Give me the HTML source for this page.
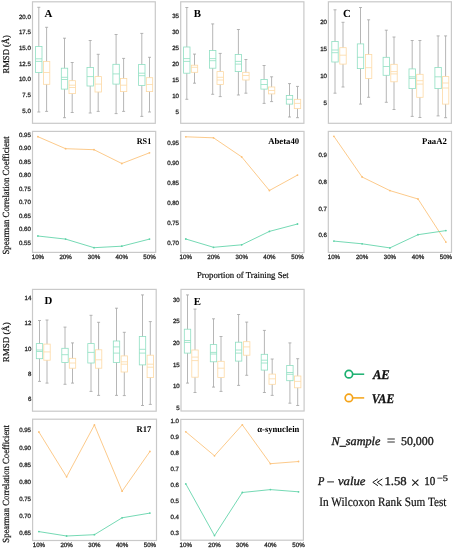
<!DOCTYPE html>
<html><head><meta charset="utf-8"><style>
html,body{margin:0;padding:0;background:#fff;width:454px;height:550px;overflow:hidden}
svg{display:block;will-change:transform}
text{text-rendering:geometricPrecision}
text{font-family:"Liberation Sans",sans-serif}
.serif{font-family:"Liberation Serif",serif}
</style></head><body>
<svg width="454" height="550" viewBox="0 0 454 550">
<rect width="454" height="550" fill="#fff"/>
<rect x="32.5" y="1.8" width="122.80" height="121.50" fill="none" stroke="#c9c9c9" stroke-width="1.2"/>
<rect x="180.7" y="1.8" width="123.20" height="121.50" fill="none" stroke="#c9c9c9" stroke-width="1.2"/>
<rect x="328.4" y="1.8" width="123.00" height="121.50" fill="none" stroke="#c9c9c9" stroke-width="1.2"/>
<path d="M38.8 7.3V46.5M38.8 72.6V112M37.3 7.3H40.3M37.3 112H40.3" stroke="#a3a3a3" stroke-width="0.8" fill="none"/>
<rect x="35.60" y="46.5" width="6.4" height="26.10" fill="none" stroke="#8fdfc2" stroke-width="0.8"/>
<path d="M35.60 58.8H42.00" stroke="#8fdfc2" stroke-width="0.8"/>
<path d="M35.60 61.4H42.00" stroke="#8fdfc2" stroke-width="0.8"/>
<path d="M46.6 27.3V61.4M46.6 84.3V111.4M45.1 27.3H48.1M45.1 111.4H48.1" stroke="#a3a3a3" stroke-width="0.8" fill="none"/>
<rect x="43.40" y="61.4" width="6.4" height="22.90" fill="none" stroke="#fdd9a4" stroke-width="0.8"/>
<path d="M43.40 72.5H49.80" stroke="#fdd9a4" stroke-width="0.8"/>
<path d="M64.5 38.2V68.2M64.5 89.1V117.7M63.0 38.2H66.0M63.0 117.7H66.0" stroke="#a3a3a3" stroke-width="0.8" fill="none"/>
<rect x="61.30" y="68.2" width="6.4" height="20.90" fill="none" stroke="#8fdfc2" stroke-width="0.8"/>
<path d="M61.30 77.3H67.70" stroke="#8fdfc2" stroke-width="0.8"/>
<path d="M61.30 79.5H67.70" stroke="#8fdfc2" stroke-width="0.8"/>
<path d="M72.2 62.5V80.7M72.2 93.6V112.5M70.7 62.5H73.7M70.7 112.5H73.7" stroke="#a3a3a3" stroke-width="0.8" fill="none"/>
<rect x="69.00" y="80.7" width="6.4" height="12.90" fill="none" stroke="#fdd9a4" stroke-width="0.8"/>
<path d="M69.00 85.2H75.40" stroke="#fdd9a4" stroke-width="0.8"/>
<path d="M69.00 87.5H75.40" stroke="#fdd9a4" stroke-width="0.8"/>
<path d="M90.2 40.5V67.5M90.2 86V113M88.7 40.5H91.7M88.7 113H91.7" stroke="#a3a3a3" stroke-width="0.8" fill="none"/>
<rect x="87.00" y="67.5" width="6.4" height="18.50" fill="none" stroke="#8fdfc2" stroke-width="0.8"/>
<path d="M87.00 76.6H93.40" stroke="#8fdfc2" stroke-width="0.8"/>
<path d="M98.2 54.3V76.6M98.2 92V111.4M96.7 54.3H99.7M96.7 111.4H99.7" stroke="#a3a3a3" stroke-width="0.8" fill="none"/>
<rect x="95.00" y="76.6" width="6.4" height="15.40" fill="none" stroke="#fdd9a4" stroke-width="0.8"/>
<path d="M95.00 84.1H101.40" stroke="#fdd9a4" stroke-width="0.8"/>
<path d="M116.1 34.5V64.3M116.1 84.1V113.6M114.6 34.5H117.6M114.6 113.6H117.6" stroke="#a3a3a3" stroke-width="0.8" fill="none"/>
<rect x="112.90" y="64.3" width="6.4" height="19.80" fill="none" stroke="#8fdfc2" stroke-width="0.8"/>
<path d="M112.90 73.9H119.30" stroke="#8fdfc2" stroke-width="0.8"/>
<path d="M123.6 58.4V78.4M123.6 91.6V111.4M122.1 58.4H125.1M122.1 111.4H125.1" stroke="#a3a3a3" stroke-width="0.8" fill="none"/>
<rect x="120.40" y="78.4" width="6.4" height="13.20" fill="none" stroke="#fdd9a4" stroke-width="0.8"/>
<path d="M120.40 85.2H126.80" stroke="#fdd9a4" stroke-width="0.8"/>
<path d="M141.8 33.4V64.5M141.8 85.5V116.4M140.3 33.4H143.3M140.3 116.4H143.3" stroke="#a3a3a3" stroke-width="0.8" fill="none"/>
<rect x="138.60" y="64.5" width="6.4" height="21.00" fill="none" stroke="#8fdfc2" stroke-width="0.8"/>
<path d="M138.60 73.2H145.00" stroke="#8fdfc2" stroke-width="0.8"/>
<path d="M138.60 75.7H145.00" stroke="#8fdfc2" stroke-width="0.8"/>
<path d="M149.5 57.3V77.7M149.5 91.6V112M148.0 57.3H151.0M148.0 112H151.0" stroke="#a3a3a3" stroke-width="0.8" fill="none"/>
<rect x="146.30" y="77.7" width="6.4" height="13.90" fill="none" stroke="#fdd9a4" stroke-width="0.8"/>
<path d="M146.30 84.5H152.70" stroke="#fdd9a4" stroke-width="0.8"/>
<path d="M186.8 7.5V47M186.8 73.2V99.3M185.3 7.5H188.3M185.3 99.3H188.3" stroke="#a3a3a3" stroke-width="0.8" fill="none"/>
<rect x="183.60" y="47" width="6.4" height="26.20" fill="none" stroke="#8fdfc2" stroke-width="0.8"/>
<path d="M183.60 58.6H190.00" stroke="#8fdfc2" stroke-width="0.8"/>
<path d="M183.60 61.4H190.00" stroke="#8fdfc2" stroke-width="0.8"/>
<path d="M194.5 54.1V65.2M194.5 72.3V83.2M193.0 54.1H196.0M193.0 83.2H196.0" stroke="#a3a3a3" stroke-width="0.8" fill="none"/>
<rect x="191.30" y="65.2" width="6.4" height="7.10" fill="none" stroke="#fdd9a4" stroke-width="0.8"/>
<path d="M191.30 67.3H197.70" stroke="#fdd9a4" stroke-width="0.8"/>
<path d="M212.7 23.9V50.5M212.7 68.2V94.3M211.2 23.9H214.2M211.2 94.3H214.2" stroke="#a3a3a3" stroke-width="0.8" fill="none"/>
<rect x="209.50" y="50.5" width="6.4" height="17.70" fill="none" stroke="#8fdfc2" stroke-width="0.8"/>
<path d="M209.50 58.6H215.90" stroke="#8fdfc2" stroke-width="0.8"/>
<path d="M209.50 60.7H215.90" stroke="#8fdfc2" stroke-width="0.8"/>
<path d="M220.2 53.4V71.6M220.2 84.5V96.6M218.7 53.4H221.7M218.7 96.6H221.7" stroke="#a3a3a3" stroke-width="0.8" fill="none"/>
<rect x="217.00" y="71.6" width="6.4" height="12.90" fill="none" stroke="#fdd9a4" stroke-width="0.8"/>
<path d="M217.00 77.3H223.40" stroke="#fdd9a4" stroke-width="0.8"/>
<path d="M217.00 80H223.40" stroke="#fdd9a4" stroke-width="0.8"/>
<path d="M238.4 29.5V54.5M238.4 71.6V95M236.9 29.5H239.9M236.9 95H239.9" stroke="#a3a3a3" stroke-width="0.8" fill="none"/>
<rect x="235.20" y="54.5" width="6.4" height="17.10" fill="none" stroke="#8fdfc2" stroke-width="0.8"/>
<path d="M235.20 61.4H241.60" stroke="#8fdfc2" stroke-width="0.8"/>
<path d="M235.20 64.1H241.60" stroke="#8fdfc2" stroke-width="0.8"/>
<path d="M245.9 59.5V72.3M245.9 80V93.2M244.4 59.5H247.4M244.4 93.2H247.4" stroke="#a3a3a3" stroke-width="0.8" fill="none"/>
<rect x="242.70" y="72.3" width="6.4" height="7.70" fill="none" stroke="#fdd9a4" stroke-width="0.8"/>
<path d="M242.70 75.5H249.10" stroke="#fdd9a4" stroke-width="0.8"/>
<path d="M264.1 65.5V79.5M264.1 89.1V103.4M262.6 65.5H265.6M262.6 103.4H265.6" stroke="#a3a3a3" stroke-width="0.8" fill="none"/>
<rect x="260.90" y="79.5" width="6.4" height="9.60" fill="none" stroke="#8fdfc2" stroke-width="0.8"/>
<path d="M260.90 84.5H267.30" stroke="#8fdfc2" stroke-width="0.8"/>
<path d="M271.6 76.8V87M271.6 93.9V101.6M270.1 76.8H273.1M270.1 101.6H273.1" stroke="#a3a3a3" stroke-width="0.8" fill="none"/>
<rect x="268.40" y="87" width="6.4" height="6.90" fill="none" stroke="#fdd9a4" stroke-width="0.8"/>
<path d="M268.40 90.5H274.80" stroke="#fdd9a4" stroke-width="0.8"/>
<path d="M289.5 83.6V95.5M289.5 104.1V117M288.0 83.6H291.0M288.0 117H291.0" stroke="#a3a3a3" stroke-width="0.8" fill="none"/>
<rect x="286.30" y="95.5" width="6.4" height="8.60" fill="none" stroke="#8fdfc2" stroke-width="0.8"/>
<path d="M286.30 99.3H292.70" stroke="#8fdfc2" stroke-width="0.8"/>
<path d="M297.5 86.4V99.3M297.5 108.6V117.7M296.0 86.4H299.0M296.0 117.7H299.0" stroke="#a3a3a3" stroke-width="0.8" fill="none"/>
<rect x="294.30" y="99.3" width="6.4" height="9.30" fill="none" stroke="#fdd9a4" stroke-width="0.8"/>
<path d="M294.30 103.4H300.70" stroke="#fdd9a4" stroke-width="0.8"/>
<path d="M335 9.8V41.4M335 62V93.2M333.5 9.8H336.5M333.5 93.2H336.5" stroke="#a3a3a3" stroke-width="0.8" fill="none"/>
<rect x="331.80" y="41.4" width="6.4" height="20.60" fill="none" stroke="#8fdfc2" stroke-width="0.8"/>
<path d="M331.80 50H338.20" stroke="#8fdfc2" stroke-width="0.8"/>
<path d="M331.80 52.7H338.20" stroke="#8fdfc2" stroke-width="0.8"/>
<path d="M343 22.3V47.7M343 64.1V87M341.5 22.3H344.5M341.5 87H344.5" stroke="#a3a3a3" stroke-width="0.8" fill="none"/>
<rect x="339.80" y="47.7" width="6.4" height="16.40" fill="none" stroke="#fdd9a4" stroke-width="0.8"/>
<path d="M339.80 55.2H346.20" stroke="#fdd9a4" stroke-width="0.8"/>
<path d="M360.5 7.5V43.9M360.5 68.6V104.1M359.0 7.5H362.0M359.0 104.1H362.0" stroke="#a3a3a3" stroke-width="0.8" fill="none"/>
<rect x="357.30" y="43.9" width="6.4" height="24.70" fill="none" stroke="#8fdfc2" stroke-width="0.8"/>
<path d="M357.30 57.3H363.70" stroke="#8fdfc2" stroke-width="0.8"/>
<path d="M368.6 19.8V54.5M368.6 78.4V97.3M367.1 19.8H370.1M367.1 97.3H370.1" stroke="#a3a3a3" stroke-width="0.8" fill="none"/>
<rect x="365.40" y="54.5" width="6.4" height="23.90" fill="none" stroke="#fdd9a4" stroke-width="0.8"/>
<path d="M365.40 67.7H371.80" stroke="#fdd9a4" stroke-width="0.8"/>
<path d="M386.3 30.2V57.3M386.3 75.3V102.3M384.8 30.2H387.8M384.8 102.3H387.8" stroke="#a3a3a3" stroke-width="0.8" fill="none"/>
<rect x="383.10" y="57.3" width="6.4" height="18.00" fill="none" stroke="#8fdfc2" stroke-width="0.8"/>
<path d="M383.10 66.5H389.50" stroke="#8fdfc2" stroke-width="0.8"/>
<path d="M394 37V64.3M394 81.8V109.5M392.5 37H395.5M392.5 109.5H395.5" stroke="#a3a3a3" stroke-width="0.8" fill="none"/>
<rect x="390.80" y="64.3" width="6.4" height="17.50" fill="none" stroke="#fdd9a4" stroke-width="0.8"/>
<path d="M390.80 71.6H397.20" stroke="#fdd9a4" stroke-width="0.8"/>
<path d="M390.80 73.9H397.20" stroke="#fdd9a4" stroke-width="0.8"/>
<path d="M412.2 40.5V68.9M412.2 88.6V116.4M410.7 40.5H413.7M410.7 116.4H413.7" stroke="#a3a3a3" stroke-width="0.8" fill="none"/>
<rect x="409.00" y="68.9" width="6.4" height="19.70" fill="none" stroke="#8fdfc2" stroke-width="0.8"/>
<path d="M409.00 76.8H415.40" stroke="#8fdfc2" stroke-width="0.8"/>
<path d="M409.00 78.4H415.40" stroke="#8fdfc2" stroke-width="0.8"/>
<path d="M419.9 40.5V74.3M419.9 97.3V117.5M418.4 40.5H421.4M418.4 117.5H421.4" stroke="#a3a3a3" stroke-width="0.8" fill="none"/>
<rect x="416.70" y="74.3" width="6.4" height="23.00" fill="none" stroke="#fdd9a4" stroke-width="0.8"/>
<path d="M416.70 80.7H423.10" stroke="#fdd9a4" stroke-width="0.8"/>
<path d="M416.70 84.1H423.10" stroke="#fdd9a4" stroke-width="0.8"/>
<path d="M438.1 35.9V67.5M438.1 88.6V115.9M436.6 35.9H439.6M436.6 115.9H439.6" stroke="#a3a3a3" stroke-width="0.8" fill="none"/>
<rect x="434.90" y="67.5" width="6.4" height="21.10" fill="none" stroke="#8fdfc2" stroke-width="0.8"/>
<path d="M434.90 76.8H441.30" stroke="#8fdfc2" stroke-width="0.8"/>
<path d="M445.6 35.9V76.6M445.6 104.1V117.7M444.1 35.9H447.1M444.1 117.7H447.1" stroke="#a3a3a3" stroke-width="0.8" fill="none"/>
<rect x="442.40" y="76.6" width="6.4" height="27.50" fill="none" stroke="#fdd9a4" stroke-width="0.8"/>
<path d="M442.40 83H448.80" stroke="#fdd9a4" stroke-width="0.8"/>
<path d="M442.40 88H448.80" stroke="#fdd9a4" stroke-width="0.8"/>
<path d="M39.5 320.5V343.6M39.5 358.7V381.4M38.0 320.5H41.0M38.0 381.4H41.0" stroke="#a3a3a3" stroke-width="0.8" fill="none"/>
<rect x="36.30" y="343.6" width="6.4" height="15.10" fill="none" stroke="#8fdfc2" stroke-width="0.8"/>
<path d="M36.30 350H42.70" stroke="#8fdfc2" stroke-width="0.8"/>
<path d="M36.30 351.5H42.70" stroke="#8fdfc2" stroke-width="0.8"/>
<path d="M47 320V344.1M47 360.2V383.1M45.5 320H48.5M45.5 383.1H48.5" stroke="#a3a3a3" stroke-width="0.8" fill="none"/>
<rect x="43.80" y="344.1" width="6.4" height="16.10" fill="none" stroke="#fdd9a4" stroke-width="0.8"/>
<path d="M43.80 351.9H50.20" stroke="#fdd9a4" stroke-width="0.8"/>
<path d="M65 327.1V348.3M65 362.5V384.3M63.5 327.1H66.5M63.5 384.3H66.5" stroke="#a3a3a3" stroke-width="0.8" fill="none"/>
<rect x="61.80" y="348.3" width="6.4" height="14.20" fill="none" stroke="#8fdfc2" stroke-width="0.8"/>
<path d="M61.80 354.7H68.20" stroke="#8fdfc2" stroke-width="0.8"/>
<path d="M72.5 342.9V358.3M72.5 368.2V383.1M71.0 342.9H74.0M71.0 383.1H74.0" stroke="#a3a3a3" stroke-width="0.8" fill="none"/>
<rect x="69.30" y="358.3" width="6.4" height="9.90" fill="none" stroke="#fdd9a4" stroke-width="0.8"/>
<path d="M69.30 363H75.70" stroke="#fdd9a4" stroke-width="0.8"/>
<path d="M91 315.3V343.6M91 363V391.4M89.5 315.3H92.5M89.5 391.4H92.5" stroke="#a3a3a3" stroke-width="0.8" fill="none"/>
<rect x="87.80" y="343.6" width="6.4" height="19.40" fill="none" stroke="#8fdfc2" stroke-width="0.8"/>
<path d="M87.80 352.4H94.20" stroke="#8fdfc2" stroke-width="0.8"/>
<path d="M98.6 322.3V349.8M98.6 368.2V395.4M97.1 322.3H100.1M97.1 395.4H100.1" stroke="#a3a3a3" stroke-width="0.8" fill="none"/>
<rect x="95.40" y="349.8" width="6.4" height="18.40" fill="none" stroke="#fdd9a4" stroke-width="0.8"/>
<path d="M95.40 359.8H101.80" stroke="#fdd9a4" stroke-width="0.8"/>
<path d="M116.5 308.2V341M116.5 362.5V395.4M115.0 308.2H118.0M115.0 395.4H118.0" stroke="#a3a3a3" stroke-width="0.8" fill="none"/>
<rect x="113.30" y="341" width="6.4" height="21.50" fill="none" stroke="#8fdfc2" stroke-width="0.8"/>
<path d="M113.30 346.9H119.70" stroke="#8fdfc2" stroke-width="0.8"/>
<path d="M113.30 353.1H119.70" stroke="#8fdfc2" stroke-width="0.8"/>
<path d="M124.3 332.3V355.9M124.3 372V395.6M122.8 332.3H125.8M122.8 395.6H125.8" stroke="#a3a3a3" stroke-width="0.8" fill="none"/>
<rect x="121.10" y="355.9" width="6.4" height="16.10" fill="none" stroke="#fdd9a4" stroke-width="0.8"/>
<path d="M121.10 361.8H127.50" stroke="#fdd9a4" stroke-width="0.8"/>
<path d="M121.10 364.2H127.50" stroke="#fdd9a4" stroke-width="0.8"/>
<path d="M142.5 294.9V336.5M142.5 364.9V405.5M141.0 294.9H144.0M141.0 405.5H144.0" stroke="#a3a3a3" stroke-width="0.8" fill="none"/>
<rect x="139.30" y="336.5" width="6.4" height="28.40" fill="none" stroke="#8fdfc2" stroke-width="0.8"/>
<path d="M139.30 349.3H145.70" stroke="#8fdfc2" stroke-width="0.8"/>
<path d="M139.30 353.1H145.70" stroke="#8fdfc2" stroke-width="0.8"/>
<path d="M150.3 321.6V355.2M150.3 377.6V404.4M148.8 321.6H151.8M148.8 404.4H151.8" stroke="#a3a3a3" stroke-width="0.8" fill="none"/>
<rect x="147.10" y="355.2" width="6.4" height="22.40" fill="none" stroke="#fdd9a4" stroke-width="0.8"/>
<path d="M147.10 364.2H153.50" stroke="#fdd9a4" stroke-width="0.8"/>
<path d="M147.10 367.2H153.50" stroke="#fdd9a4" stroke-width="0.8"/>
<path d="M187.5 294.9V329.2M187.5 353.1V383.1M186.0 294.9H189.0M186.0 383.1H189.0" stroke="#a3a3a3" stroke-width="0.8" fill="none"/>
<rect x="184.30" y="329.2" width="6.4" height="23.90" fill="none" stroke="#8fdfc2" stroke-width="0.8"/>
<path d="M184.30 340.5H190.70" stroke="#8fdfc2" stroke-width="0.8"/>
<path d="M184.30 342.4H190.70" stroke="#8fdfc2" stroke-width="0.8"/>
<path d="M195 309.1V350M195 377.2V392.5M193.5 309.1H196.5M193.5 392.5H196.5" stroke="#a3a3a3" stroke-width="0.8" fill="none"/>
<rect x="191.80" y="350" width="6.4" height="27.20" fill="none" stroke="#fdd9a4" stroke-width="0.8"/>
<path d="M191.80 357.1H198.20" stroke="#fdd9a4" stroke-width="0.8"/>
<path d="M191.80 360.6H198.20" stroke="#fdd9a4" stroke-width="0.8"/>
<path d="M213.5 318.8V344.6M213.5 361.8V387.1M212.0 318.8H215.0M212.0 387.1H215.0" stroke="#a3a3a3" stroke-width="0.8" fill="none"/>
<rect x="210.30" y="344.6" width="6.4" height="17.20" fill="none" stroke="#8fdfc2" stroke-width="0.8"/>
<path d="M210.30 352.4H216.70" stroke="#8fdfc2" stroke-width="0.8"/>
<path d="M210.30 354H216.70" stroke="#8fdfc2" stroke-width="0.8"/>
<path d="M221 336.5V361.3M221 377.6V391.4M219.5 336.5H222.5M219.5 391.4H222.5" stroke="#a3a3a3" stroke-width="0.8" fill="none"/>
<rect x="217.80" y="361.3" width="6.4" height="16.30" fill="none" stroke="#fdd9a4" stroke-width="0.8"/>
<path d="M217.80 368.2H224.20" stroke="#fdd9a4" stroke-width="0.8"/>
<path d="M238.6 314.5V342.2M238.6 361.1V385.4M237.1 314.5H240.1M237.1 385.4H240.1" stroke="#a3a3a3" stroke-width="0.8" fill="none"/>
<rect x="235.40" y="342.2" width="6.4" height="18.90" fill="none" stroke="#8fdfc2" stroke-width="0.8"/>
<path d="M235.40 350H241.80" stroke="#8fdfc2" stroke-width="0.8"/>
<path d="M235.40 353.1H241.80" stroke="#8fdfc2" stroke-width="0.8"/>
<path d="M246.7 322.1V341.7M246.7 355.2V375.3M245.2 322.1H248.2M245.2 375.3H248.2" stroke="#a3a3a3" stroke-width="0.8" fill="none"/>
<rect x="243.50" y="341.7" width="6.4" height="13.50" fill="none" stroke="#fdd9a4" stroke-width="0.8"/>
<path d="M243.50 346.9H249.90" stroke="#fdd9a4" stroke-width="0.8"/>
<path d="M264.4 330.4V354.3M264.4 370.1V392.5M262.9 330.4H265.9M262.9 392.5H265.9" stroke="#a3a3a3" stroke-width="0.8" fill="none"/>
<rect x="261.20" y="354.3" width="6.4" height="15.80" fill="none" stroke="#8fdfc2" stroke-width="0.8"/>
<path d="M261.20 360.2H267.60" stroke="#8fdfc2" stroke-width="0.8"/>
<path d="M261.20 363H267.60" stroke="#8fdfc2" stroke-width="0.8"/>
<path d="M272.2 359V374.1M272.2 384.3V395.4M270.7 359H273.7M270.7 395.4H273.7" stroke="#a3a3a3" stroke-width="0.8" fill="none"/>
<rect x="269.00" y="374.1" width="6.4" height="10.20" fill="none" stroke="#fdd9a4" stroke-width="0.8"/>
<path d="M269.00 378.8H275.40" stroke="#fdd9a4" stroke-width="0.8"/>
<path d="M289.9 342.9V365.4M289.9 380.7V403.2M288.4 342.9H291.4M288.4 403.2H291.4" stroke="#a3a3a3" stroke-width="0.8" fill="none"/>
<rect x="286.70" y="365.4" width="6.4" height="15.30" fill="none" stroke="#8fdfc2" stroke-width="0.8"/>
<path d="M286.70 372.5H293.10" stroke="#8fdfc2" stroke-width="0.8"/>
<path d="M286.70 374.3H293.10" stroke="#8fdfc2" stroke-width="0.8"/>
<path d="M297.7 358.7V376M297.7 387.8V405.5M296.2 358.7H299.2M296.2 405.5H299.2" stroke="#a3a3a3" stroke-width="0.8" fill="none"/>
<rect x="294.50" y="376" width="6.4" height="11.80" fill="none" stroke="#fdd9a4" stroke-width="0.8"/>
<path d="M294.50 381.4H300.90" stroke="#fdd9a4" stroke-width="0.8"/>
<text x="30.8" y="18.70" text-anchor="end" font-size="6.1" fill="#262626" stroke="#262626" stroke-width="0.28">20.0</text>
<text x="30.8" y="34.30" text-anchor="end" font-size="6.1" fill="#262626" stroke="#262626" stroke-width="0.28">17.5</text>
<text x="30.8" y="49.60" text-anchor="end" font-size="6.1" fill="#262626" stroke="#262626" stroke-width="0.28">15.0</text>
<text x="30.8" y="65.60" text-anchor="end" font-size="6.1" fill="#262626" stroke="#262626" stroke-width="0.28">12.5</text>
<text x="30.8" y="81.40" text-anchor="end" font-size="6.1" fill="#262626" stroke="#262626" stroke-width="0.28">10.0</text>
<text x="30.8" y="97.30" text-anchor="end" font-size="6.1" fill="#262626" stroke="#262626" stroke-width="0.28">7.5</text>
<text x="30.8" y="112.80" text-anchor="end" font-size="6.1" fill="#262626" stroke="#262626" stroke-width="0.28">5.0</text>
<text x="179.0" y="17.90" text-anchor="end" font-size="6.1" fill="#262626" stroke="#262626" stroke-width="0.28">35</text>
<text x="179.0" y="33.80" text-anchor="end" font-size="6.1" fill="#262626" stroke="#262626" stroke-width="0.28">30</text>
<text x="179.0" y="49.70" text-anchor="end" font-size="6.1" fill="#262626" stroke="#262626" stroke-width="0.28">25</text>
<text x="179.0" y="66.00" text-anchor="end" font-size="6.1" fill="#262626" stroke="#262626" stroke-width="0.28">20</text>
<text x="179.0" y="81.90" text-anchor="end" font-size="6.1" fill="#262626" stroke="#262626" stroke-width="0.28">15</text>
<text x="179.0" y="97.90" text-anchor="end" font-size="6.1" fill="#262626" stroke="#262626" stroke-width="0.28">10</text>
<text x="179.0" y="113.80" text-anchor="end" font-size="6.1" fill="#262626" stroke="#262626" stroke-width="0.28">5</text>
<text x="327.0" y="24.40" text-anchor="end" font-size="6.1" fill="#262626" stroke="#262626" stroke-width="0.28">20</text>
<text x="327.0" y="51.30" text-anchor="end" font-size="6.1" fill="#262626" stroke="#262626" stroke-width="0.28">15</text>
<text x="327.0" y="77.90" text-anchor="end" font-size="6.1" fill="#262626" stroke="#262626" stroke-width="0.28">10</text>
<text x="327.0" y="104.70" text-anchor="end" font-size="6.1" fill="#262626" stroke="#262626" stroke-width="0.28">5</text>
<text x="44.6" y="16.6" class="serif" font-weight="bold" font-size="10.8" fill="#000">A</text>
<text x="193.8" y="16.7" class="serif" font-weight="bold" font-size="10.8" fill="#000">B</text>
<text x="342.9" y="17.0" class="serif" font-weight="bold" font-size="10.8" fill="#000">C</text>
<rect x="32.5" y="131.4" width="123.20" height="121.00" fill="none" stroke="#c9c9c9" stroke-width="1.2"/>
<rect x="180.7" y="131.4" width="123.30" height="121.20" fill="none" stroke="#c9c9c9" stroke-width="1.2"/>
<rect x="328.3" y="131.4" width="123.20" height="121.00" fill="none" stroke="#c9c9c9" stroke-width="1.2"/>
<polyline points="37.9,136.7 65.6,148.7 94.0,149.7 121.8,163.5 149.5,152.8" fill="none" stroke="#fcc076" stroke-width="0.85"/>
<circle cx="37.9" cy="136.7" r="0.9" fill="#fcc076"/>
<circle cx="65.6" cy="148.7" r="0.9" fill="#fcc076"/>
<circle cx="94.0" cy="149.7" r="0.9" fill="#fcc076"/>
<circle cx="121.8" cy="163.5" r="0.9" fill="#fcc076"/>
<circle cx="149.5" cy="152.8" r="0.9" fill="#fcc076"/>
<polyline points="37.9,236 65.6,239.1 94.0,247.7 121.8,246.2 149.5,239.1" fill="none" stroke="#5cd2a6" stroke-width="0.85"/>
<circle cx="37.9" cy="236" r="0.9" fill="#5cd2a6"/>
<circle cx="65.6" cy="239.1" r="0.9" fill="#5cd2a6"/>
<circle cx="94.0" cy="247.7" r="0.9" fill="#5cd2a6"/>
<circle cx="121.8" cy="246.2" r="0.9" fill="#5cd2a6"/>
<circle cx="149.5" cy="239.1" r="0.9" fill="#5cd2a6"/>
<polyline points="185.8,136.8 213.5,137.8 241.7,156.9 269.4,190.5 297.5,175.1" fill="none" stroke="#fcc076" stroke-width="0.85"/>
<circle cx="185.8" cy="136.8" r="0.9" fill="#fcc076"/>
<circle cx="213.5" cy="137.8" r="0.9" fill="#fcc076"/>
<circle cx="241.7" cy="156.9" r="0.9" fill="#fcc076"/>
<circle cx="269.4" cy="190.5" r="0.9" fill="#fcc076"/>
<circle cx="297.5" cy="175.1" r="0.9" fill="#fcc076"/>
<polyline points="185.8,239 213.5,247.3 241.7,244.8 269.4,231.4 297.5,224" fill="none" stroke="#5cd2a6" stroke-width="0.85"/>
<circle cx="185.8" cy="239" r="0.9" fill="#5cd2a6"/>
<circle cx="213.5" cy="247.3" r="0.9" fill="#5cd2a6"/>
<circle cx="241.7" cy="244.8" r="0.9" fill="#5cd2a6"/>
<circle cx="269.4" cy="231.4" r="0.9" fill="#5cd2a6"/>
<circle cx="297.5" cy="224" r="0.9" fill="#5cd2a6"/>
<polyline points="333.9,136.3 362.1,177 389.9,190.6 418.0,199 445.9,242.1" fill="none" stroke="#fcc076" stroke-width="0.85"/>
<circle cx="333.9" cy="136.3" r="0.9" fill="#fcc076"/>
<circle cx="362.1" cy="177" r="0.9" fill="#fcc076"/>
<circle cx="389.9" cy="190.6" r="0.9" fill="#fcc076"/>
<circle cx="418.0" cy="199" r="0.9" fill="#fcc076"/>
<circle cx="445.9" cy="242.1" r="0.9" fill="#fcc076"/>
<polyline points="333.9,241.1 362.1,243.8 389.9,247.9 418.0,234.7 445.9,230.6" fill="none" stroke="#5cd2a6" stroke-width="0.85"/>
<circle cx="333.9" cy="241.1" r="0.9" fill="#5cd2a6"/>
<circle cx="362.1" cy="243.8" r="0.9" fill="#5cd2a6"/>
<circle cx="389.9" cy="247.9" r="0.9" fill="#5cd2a6"/>
<circle cx="418.0" cy="234.7" r="0.9" fill="#5cd2a6"/>
<circle cx="445.9" cy="230.6" r="0.9" fill="#5cd2a6"/>
<text x="30.8" y="244.90" text-anchor="end" font-size="6.1" fill="#262626" stroke="#262626" stroke-width="0.28">0.55</text>
<text x="30.8" y="231.41" text-anchor="end" font-size="6.1" fill="#262626" stroke="#262626" stroke-width="0.28">0.60</text>
<text x="30.8" y="217.92" text-anchor="end" font-size="6.1" fill="#262626" stroke="#262626" stroke-width="0.28">0.65</text>
<text x="30.8" y="204.43" text-anchor="end" font-size="6.1" fill="#262626" stroke="#262626" stroke-width="0.28">0.70</text>
<text x="30.8" y="190.94" text-anchor="end" font-size="6.1" fill="#262626" stroke="#262626" stroke-width="0.28">0.75</text>
<text x="30.8" y="177.45" text-anchor="end" font-size="6.1" fill="#262626" stroke="#262626" stroke-width="0.28">0.80</text>
<text x="30.8" y="163.96" text-anchor="end" font-size="6.1" fill="#262626" stroke="#262626" stroke-width="0.28">0.85</text>
<text x="30.8" y="150.47" text-anchor="end" font-size="6.1" fill="#262626" stroke="#262626" stroke-width="0.28">0.90</text>
<text x="30.8" y="136.98" text-anchor="end" font-size="6.1" fill="#262626" stroke="#262626" stroke-width="0.28">0.95</text>
<text x="179.0" y="145.00" text-anchor="end" font-size="6.1" fill="#262626" stroke="#262626" stroke-width="0.28">0.95</text>
<text x="179.0" y="164.80" text-anchor="end" font-size="6.1" fill="#262626" stroke="#262626" stroke-width="0.28">0.90</text>
<text x="179.0" y="184.90" text-anchor="end" font-size="6.1" fill="#262626" stroke="#262626" stroke-width="0.28">0.85</text>
<text x="179.0" y="205.00" text-anchor="end" font-size="6.1" fill="#262626" stroke="#262626" stroke-width="0.28">0.80</text>
<text x="179.0" y="224.80" text-anchor="end" font-size="6.1" fill="#262626" stroke="#262626" stroke-width="0.28">0.75</text>
<text x="179.0" y="244.90" text-anchor="end" font-size="6.1" fill="#262626" stroke="#262626" stroke-width="0.28">0.70</text>
<text x="326.9" y="157.30" text-anchor="end" font-size="6.1" fill="#262626" stroke="#262626" stroke-width="0.28">0.9</text>
<text x="326.9" y="184.10" text-anchor="end" font-size="6.1" fill="#262626" stroke="#262626" stroke-width="0.28">0.8</text>
<text x="326.9" y="210.60" text-anchor="end" font-size="6.1" fill="#262626" stroke="#262626" stroke-width="0.28">0.7</text>
<text x="326.9" y="237.10" text-anchor="end" font-size="6.1" fill="#262626" stroke="#262626" stroke-width="0.28">0.6</text>
<text x="37.9" y="258.80" text-anchor="middle" font-size="6.2" fill="#262626" stroke="#262626" stroke-width="0.28">10%</text>
<text x="65.6" y="258.80" text-anchor="middle" font-size="6.2" fill="#262626" stroke="#262626" stroke-width="0.28">20%</text>
<text x="94.0" y="258.80" text-anchor="middle" font-size="6.2" fill="#262626" stroke="#262626" stroke-width="0.28">30%</text>
<text x="121.8" y="258.80" text-anchor="middle" font-size="6.2" fill="#262626" stroke="#262626" stroke-width="0.28">40%</text>
<text x="149.5" y="258.80" text-anchor="middle" font-size="6.2" fill="#262626" stroke="#262626" stroke-width="0.28">50%</text>
<text x="185.8" y="258.80" text-anchor="middle" font-size="6.2" fill="#262626" stroke="#262626" stroke-width="0.28">10%</text>
<text x="213.5" y="258.80" text-anchor="middle" font-size="6.2" fill="#262626" stroke="#262626" stroke-width="0.28">20%</text>
<text x="241.7" y="258.80" text-anchor="middle" font-size="6.2" fill="#262626" stroke="#262626" stroke-width="0.28">30%</text>
<text x="269.4" y="258.80" text-anchor="middle" font-size="6.2" fill="#262626" stroke="#262626" stroke-width="0.28">40%</text>
<text x="297.5" y="258.80" text-anchor="middle" font-size="6.2" fill="#262626" stroke="#262626" stroke-width="0.28">50%</text>
<text x="333.9" y="259.00" text-anchor="middle" font-size="6.2" fill="#262626" stroke="#262626" stroke-width="0.28">10%</text>
<text x="362.1" y="259.00" text-anchor="middle" font-size="6.2" fill="#262626" stroke="#262626" stroke-width="0.28">20%</text>
<text x="389.9" y="259.00" text-anchor="middle" font-size="6.2" fill="#262626" stroke="#262626" stroke-width="0.28">30%</text>
<text x="418.0" y="259.00" text-anchor="middle" font-size="6.2" fill="#262626" stroke="#262626" stroke-width="0.28">40%</text>
<text x="445.9" y="259.00" text-anchor="middle" font-size="6.2" fill="#262626" stroke="#262626" stroke-width="0.28">50%</text>
<text x="136.70000000000002" y="144.0" class="serif" font-weight="bold" font-size="8.8" fill="#000" textLength="14.6" lengthAdjust="spacingAndGlyphs">RS1</text>
<text x="268.2" y="143.8" class="serif" font-weight="bold" font-size="8.8" fill="#000" textLength="31.0" lengthAdjust="spacingAndGlyphs">Abeta40</text>
<text x="422.09999999999997" y="144.3" class="serif" font-weight="bold" font-size="8.8" fill="#000" textLength="24.8" lengthAdjust="spacingAndGlyphs">PaaA2</text>
<text transform="translate(9.4,54.3) rotate(-90)" x="0" y="0" text-anchor="middle" class="serif" font-size="9.0" fill="#111" stroke="#111" stroke-width="0.22" textLength="38.5" lengthAdjust="spacingAndGlyphs">RMSD (Å)</text>
<text transform="translate(9.3,195.45) rotate(-90)" x="0" y="0" text-anchor="middle" class="serif" font-size="9.4" fill="#111" stroke="#111" stroke-width="0.22" textLength="118.1" lengthAdjust="spacingAndGlyphs">Spearman Correlation Coefficient</text>
<text x="196.9" y="278.3" class="serif" font-size="9.0" fill="#111" stroke="#111" stroke-width="0.2" textLength="91.9" lengthAdjust="spacingAndGlyphs">Proportion of Training Set</text>
<rect x="32.5" y="289.4" width="123.70" height="121.80" fill="none" stroke="#c9c9c9" stroke-width="1.2"/>
<rect x="181.0" y="289.4" width="123.10" height="121.60" fill="none" stroke="#c9c9c9" stroke-width="1.2"/>
<text x="31.3" y="299.70" text-anchor="end" font-size="6.1" fill="#262626" stroke="#262626" stroke-width="0.28">14</text>
<text x="31.3" y="325.10" text-anchor="end" font-size="6.1" fill="#262626" stroke="#262626" stroke-width="0.28">12</text>
<text x="31.3" y="350.60" text-anchor="end" font-size="6.1" fill="#262626" stroke="#262626" stroke-width="0.28">10</text>
<text x="31.3" y="376.00" text-anchor="end" font-size="6.1" fill="#262626" stroke="#262626" stroke-width="0.28">8</text>
<text x="31.3" y="401.20" text-anchor="end" font-size="6.1" fill="#262626" stroke="#262626" stroke-width="0.28">6</text>
<text x="179.7" y="302.10" text-anchor="end" font-size="6.1" fill="#262626" stroke="#262626" stroke-width="0.28">30</text>
<text x="179.7" y="323.30" text-anchor="end" font-size="6.1" fill="#262626" stroke="#262626" stroke-width="0.28">25</text>
<text x="179.7" y="344.60" text-anchor="end" font-size="6.1" fill="#262626" stroke="#262626" stroke-width="0.28">20</text>
<text x="179.7" y="366.60" text-anchor="end" font-size="6.1" fill="#262626" stroke="#262626" stroke-width="0.28">15</text>
<text x="179.7" y="388.30" text-anchor="end" font-size="6.1" fill="#262626" stroke="#262626" stroke-width="0.28">10</text>
<text x="179.7" y="409.80" text-anchor="end" font-size="6.1" fill="#262626" stroke="#262626" stroke-width="0.28">5</text>
<text x="44.6" y="304.1" class="serif" font-weight="bold" font-size="10.8" fill="#000">D</text>
<text x="193.7" y="304.7" class="serif" font-weight="bold" font-size="10.8" fill="#000">E</text>
<text transform="translate(9.4,342.2) rotate(-90)" x="0" y="0" text-anchor="middle" class="serif" font-size="9.0" fill="#111" stroke="#111" stroke-width="0.22" textLength="40.0" lengthAdjust="spacingAndGlyphs">RMSD (Å)</text>
<rect x="32.6" y="419.2" width="123.90" height="121.30" fill="none" stroke="#c9c9c9" stroke-width="1.2"/>
<rect x="180.8" y="419.4" width="122.60" height="120.80" fill="none" stroke="#c9c9c9" stroke-width="1.2"/>
<polyline points="38.9,432 66.6,476.8 94.4,425 122.1,491.2 149.9,451.5" fill="none" stroke="#fcc076" stroke-width="0.85"/>
<circle cx="38.9" cy="432" r="0.9" fill="#fcc076"/>
<circle cx="66.6" cy="476.8" r="0.9" fill="#fcc076"/>
<circle cx="94.4" cy="425" r="0.9" fill="#fcc076"/>
<circle cx="122.1" cy="491.2" r="0.9" fill="#fcc076"/>
<circle cx="149.9" cy="451.5" r="0.9" fill="#fcc076"/>
<polyline points="38.9,531.6 66.6,536 94.4,534.7 122.1,517.8 149.9,513.1" fill="none" stroke="#5cd2a6" stroke-width="0.85"/>
<circle cx="38.9" cy="531.6" r="0.9" fill="#5cd2a6"/>
<circle cx="66.6" cy="536" r="0.9" fill="#5cd2a6"/>
<circle cx="94.4" cy="534.7" r="0.9" fill="#5cd2a6"/>
<circle cx="122.1" cy="517.8" r="0.9" fill="#5cd2a6"/>
<circle cx="149.9" cy="513.1" r="0.9" fill="#5cd2a6"/>
<polyline points="185.8,431.8 214.5,455.8 242.3,424.8 270.4,463.7 298.5,461.5" fill="none" stroke="#fcc076" stroke-width="0.85"/>
<circle cx="185.8" cy="431.8" r="0.9" fill="#fcc076"/>
<circle cx="214.5" cy="455.8" r="0.9" fill="#fcc076"/>
<circle cx="242.3" cy="424.8" r="0.9" fill="#fcc076"/>
<circle cx="270.4" cy="463.7" r="0.9" fill="#fcc076"/>
<circle cx="298.5" cy="461.5" r="0.9" fill="#fcc076"/>
<polyline points="185.8,483.9 214.5,535.6 242.3,492.5 270.4,489.6 298.5,491.8" fill="none" stroke="#5cd2a6" stroke-width="0.85"/>
<circle cx="185.8" cy="483.9" r="0.9" fill="#5cd2a6"/>
<circle cx="214.5" cy="535.6" r="0.9" fill="#5cd2a6"/>
<circle cx="242.3" cy="492.5" r="0.9" fill="#5cd2a6"/>
<circle cx="270.4" cy="489.6" r="0.9" fill="#5cd2a6"/>
<circle cx="298.5" cy="491.8" r="0.9" fill="#5cd2a6"/>
<text x="31.0" y="432.20" text-anchor="end" font-size="6.1" fill="#262626" stroke="#262626" stroke-width="0.28">0.95</text>
<text x="31.0" y="449.80" text-anchor="end" font-size="6.1" fill="#262626" stroke="#262626" stroke-width="0.28">0.90</text>
<text x="31.0" y="466.60" text-anchor="end" font-size="6.1" fill="#262626" stroke="#262626" stroke-width="0.28">0.85</text>
<text x="31.0" y="483.60" text-anchor="end" font-size="6.1" fill="#262626" stroke="#262626" stroke-width="0.28">0.80</text>
<text x="31.0" y="500.90" text-anchor="end" font-size="6.1" fill="#262626" stroke="#262626" stroke-width="0.28">0.75</text>
<text x="31.0" y="517.50" text-anchor="end" font-size="6.1" fill="#262626" stroke="#262626" stroke-width="0.28">0.70</text>
<text x="31.0" y="534.50" text-anchor="end" font-size="6.1" fill="#262626" stroke="#262626" stroke-width="0.28">0.65</text>
<text x="179.0" y="423.30" text-anchor="end" font-size="6.1" fill="#262626" stroke="#262626" stroke-width="0.28">1.0</text>
<text x="179.0" y="439.00" text-anchor="end" font-size="6.1" fill="#262626" stroke="#262626" stroke-width="0.28">0.9</text>
<text x="179.0" y="455.30" text-anchor="end" font-size="6.1" fill="#262626" stroke="#262626" stroke-width="0.28">0.8</text>
<text x="179.0" y="470.90" text-anchor="end" font-size="6.1" fill="#262626" stroke="#262626" stroke-width="0.28">0.7</text>
<text x="179.0" y="486.90" text-anchor="end" font-size="6.1" fill="#262626" stroke="#262626" stroke-width="0.28">0.6</text>
<text x="179.0" y="502.90" text-anchor="end" font-size="6.1" fill="#262626" stroke="#262626" stroke-width="0.28">0.5</text>
<text x="179.0" y="518.80" text-anchor="end" font-size="6.1" fill="#262626" stroke="#262626" stroke-width="0.28">0.4</text>
<text x="179.0" y="535.10" text-anchor="end" font-size="6.1" fill="#262626" stroke="#262626" stroke-width="0.28">0.3</text>
<text x="38.9" y="547.20" text-anchor="middle" font-size="6.2" fill="#262626" stroke="#262626" stroke-width="0.28">10%</text>
<text x="66.6" y="547.20" text-anchor="middle" font-size="6.2" fill="#262626" stroke="#262626" stroke-width="0.28">20%</text>
<text x="94.4" y="547.20" text-anchor="middle" font-size="6.2" fill="#262626" stroke="#262626" stroke-width="0.28">30%</text>
<text x="122.1" y="547.20" text-anchor="middle" font-size="6.2" fill="#262626" stroke="#262626" stroke-width="0.28">40%</text>
<text x="149.9" y="547.20" text-anchor="middle" font-size="6.2" fill="#262626" stroke="#262626" stroke-width="0.28">50%</text>
<text x="185.8" y="546.80" text-anchor="middle" font-size="6.2" fill="#262626" stroke="#262626" stroke-width="0.28">10%</text>
<text x="214.5" y="546.80" text-anchor="middle" font-size="6.2" fill="#262626" stroke="#262626" stroke-width="0.28">20%</text>
<text x="242.3" y="546.80" text-anchor="middle" font-size="6.2" fill="#262626" stroke="#262626" stroke-width="0.28">30%</text>
<text x="270.4" y="546.80" text-anchor="middle" font-size="6.2" fill="#262626" stroke="#262626" stroke-width="0.28">40%</text>
<text x="298.5" y="546.80" text-anchor="middle" font-size="6.2" fill="#262626" stroke="#262626" stroke-width="0.28">50%</text>
<text x="136.6" y="432.0" class="serif" font-weight="bold" font-size="8.8" fill="#000" textLength="14.8" lengthAdjust="spacingAndGlyphs">R17</text>
<text x="257.3" y="432.1" class="serif" font-weight="bold" font-size="8.8" fill="#000" textLength="42.0" lengthAdjust="spacingAndGlyphs">α-synuclein</text>
<text transform="translate(9.3,483.85) rotate(-90)" x="0" y="0" text-anchor="middle" class="serif" font-size="9.4" fill="#111" stroke="#111" stroke-width="0.22" textLength="117.7" lengthAdjust="spacingAndGlyphs">Spearman Correlation Coefficient</text>
<circle cx="348.9" cy="374.2" r="3.75" fill="none" stroke="#1bb070" stroke-width="1.7"/>
<path d="M352.6 374.2H364.2" stroke="#1bb070" stroke-width="1.5"/>
<circle cx="348.9" cy="397.9" r="3.75" fill="none" stroke="#f5a317" stroke-width="1.7"/>
<path d="M352.6 397.9H364.2" stroke="#f5a317" stroke-width="1.5"/>
<text x="372.9" y="379.0" class="serif" font-style="italic" font-weight="bold" font-size="13.2" fill="#111" stroke="#111" stroke-width="0.3" textLength="16.8" lengthAdjust="spacingAndGlyphs">AE</text>
<text x="371.7" y="402.6" class="serif" font-style="italic" font-weight="bold" font-size="13.2" fill="#111" stroke="#111" stroke-width="0.3" textLength="22.5" lengthAdjust="spacingAndGlyphs">VAE</text>
<text x="331.6" y="444.6" class="serif" font-style="italic" font-size="12.0" fill="#1a1a1a" stroke="#1a1a1a" stroke-width="0.35" textLength="48.80" lengthAdjust="spacingAndGlyphs">N_sample</text>
<path d="M387.4 439.0H394.8M387.4 442.0H394.8" stroke="#1a1a1a" stroke-width="0.9"/>
<text x="401.0" y="444.6" class="serif" font-size="12.0" fill="#1a1a1a" stroke="#1a1a1a" stroke-width="0.35" textLength="32.70" lengthAdjust="spacingAndGlyphs">50,000</text>
<text x="317.9" y="485.2" class="serif" font-style="italic" font-size="12.0" fill="#1a1a1a" stroke="#1a1a1a" stroke-width="0.35" textLength="6.40" lengthAdjust="spacingAndGlyphs">P</text>
<path d="M327.2 481.9H334.0" stroke="#1a1a1a" stroke-width="0.95"/>
<text x="337.9" y="485.2" class="serif" font-style="italic" font-size="12.0" fill="#1a1a1a" stroke="#1a1a1a" stroke-width="0.35" textLength="27.60" lengthAdjust="spacingAndGlyphs">value</text>
<path d="M377.9 478.9L372.8 482.3L377.9 485.7M382.4 478.9L377.3 482.3L382.4 485.7" fill="none" stroke="#1a1a1a" stroke-width="1.0"/>
<text x="384.5" y="485.2" class="serif" font-size="12.0" fill="#1a1a1a" stroke="#1a1a1a" stroke-width="0.35" textLength="22.20" lengthAdjust="spacingAndGlyphs">1.58</text>
<path d="M412.2 479.6L418.4 485.6M418.4 479.6L412.2 485.6" fill="none" stroke="#1a1a1a" stroke-width="1.1"/>
<text x="424.2" y="485.2" class="serif" font-size="12.0" fill="#1a1a1a" stroke="#1a1a1a" stroke-width="0.35" textLength="11.10" lengthAdjust="spacingAndGlyphs">10</text>
<text x="436.9" y="480.6" class="serif" font-size="8.6" fill="#1a1a1a" stroke="#1a1a1a" stroke-width="0.25" textLength="11.10" lengthAdjust="spacingAndGlyphs">−5</text>
<text x="319.3" y="505.5" class="serif" font-size="12.8" fill="#111" stroke="#111" stroke-width="0.2" textLength="127.2" lengthAdjust="spacingAndGlyphs">In Wilcoxon Rank Sum Test</text>
</svg>
</body></html>
